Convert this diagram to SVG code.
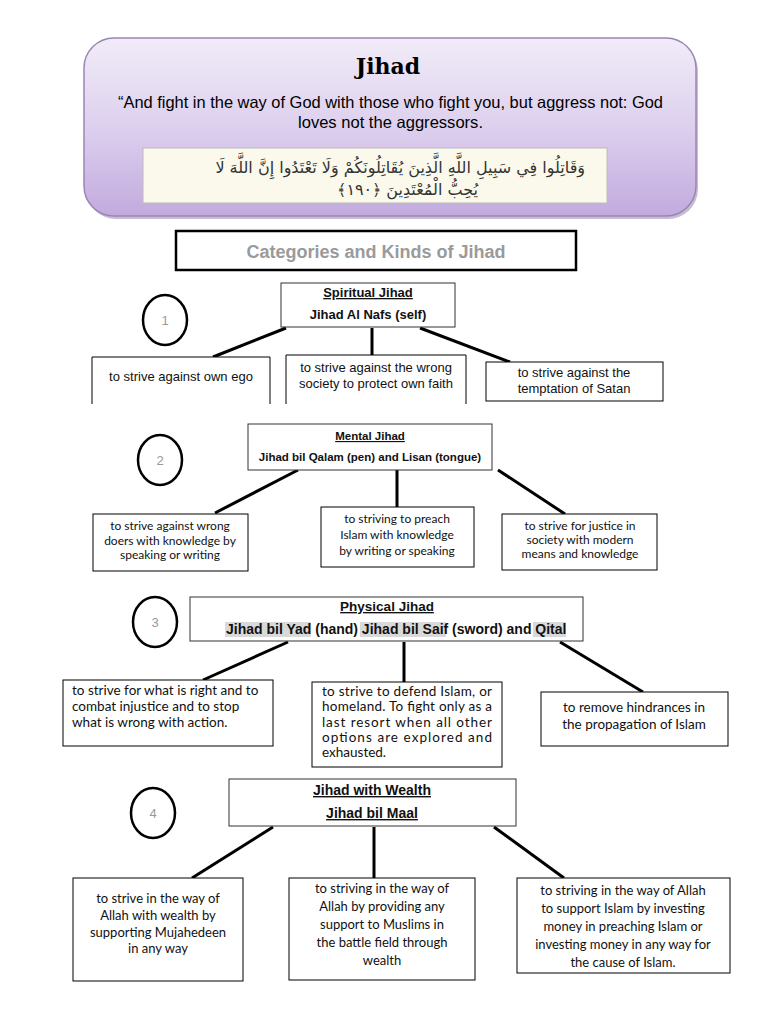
<svg xmlns="http://www.w3.org/2000/svg" width="768" height="1024" viewBox="0 0 768 1024">
<defs>
<linearGradient id="hdr" x1="0" y1="0" x2="0" y2="1">
<stop offset="0" stop-color="#f1ecf8"/>
<stop offset="0.5" stop-color="#ddd0ee"/>
<stop offset="1" stop-color="#c2aade"/>
</linearGradient>
<style>
.box{fill:#fff;stroke:#000;stroke-width:1}
.hbox{fill:#fff;stroke:#333;stroke-width:1}
.conn line{stroke:#000;stroke-width:3}
.circ{fill:none;stroke:#000;stroke-width:2.5}
.num{font-family:"Liberation Sans",Arial,sans-serif;font-size:13px;fill:#999;text-anchor:middle}
.arial{font-family:"Liberation Sans",Arial,sans-serif;font-size:13px;fill:#111;text-anchor:middle}
.cal{font-family:Lato,"Open Sans",sans-serif;font-size:12px;fill:#111;text-anchor:middle}
.cal3{font-family:Lato,"Open Sans",sans-serif;font-size:13.5px;fill:#111}
.cal2{font-family:Lato,"Open Sans",sans-serif;font-size:13px;fill:#111;text-anchor:middle}
.hd{font-family:"Liberation Sans",Arial,sans-serif;font-size:13px;font-weight:bold;fill:#111;text-anchor:middle}
.hl{fill:#d9d9d9}
.ar{font-family:"DejaVu Sans",sans-serif;font-size:16px;fill:#333}
</style>
</defs>
<rect width="768" height="1024" fill="#fff"/>
<g id="header">
<rect x="86" y="41" width="612" height="178" rx="30" fill="#8d7aa8" opacity="0.5"/>
<rect x="84" y="38" width="612" height="178" rx="30" fill="url(#hdr)" stroke="#9a86b5" stroke-width="1.5"/>
<text x="388" y="74" text-anchor="middle" font-family="'DejaVu Serif',serif" font-weight="bold" font-size="22" fill="#000">Jihad</text>
<text x="118" y="108" textLength="545" lengthAdjust="spacingAndGlyphs" font-family="'Liberation Sans',sans-serif" font-size="16.5" fill="#000">“And fight in the way of God with those who fight you, but aggress not: God</text>
<text x="298" y="128" textLength="185" lengthAdjust="spacingAndGlyphs" font-family="'Liberation Sans',sans-serif" font-size="16.5" fill="#000">loves not the aggressors.</text>
<rect x="143" y="148" width="464" height="55" fill="#fbf9ec" stroke="#bbb" stroke-width="1"/>
<text class="ar" x="585" y="173" text-anchor="start" direction="rtl">وَقَاتِلُوا فِي سَبِيلِ اللَّهِ الَّذِينَ يُقَاتِلُونَكُمْ وَلَا تَعْتَدُوا إِنَّ اللَّهَ لَا</text>
<text class="ar" x="478" y="195" text-anchor="start" direction="rtl">يُحِبُّ الْمُعْتَدِينَ ﴿١٩٠﴾</text>
</g>
<g id="title">
<rect x="176" y="231" width="400" height="39" fill="#fff" stroke="#000" stroke-width="2.5"/>
<text x="376" y="258" text-anchor="middle" font-family="'Liberation Sans',Arial,sans-serif" font-weight="bold" font-size="18" fill="#9a9a9a">Categories and Kinds of Jihad</text>
</g>
<g id="connectors" class="conn">
<line x1="286" y1="328" x2="213" y2="357"/>
<line x1="372" y1="328" x2="372" y2="355"/>
<line x1="420" y1="328" x2="510" y2="362"/>
<line x1="298" y1="470" x2="215" y2="513"/>
<line x1="397" y1="470" x2="397" y2="507"/>
<line x1="498" y1="470" x2="565" y2="514"/>
<line x1="288" y1="642" x2="203" y2="680"/>
<line x1="404" y1="642" x2="404" y2="682"/>
<line x1="560" y1="642" x2="643" y2="692"/>
<line x1="273" y1="827" x2="192" y2="878"/>
<line x1="374" y1="827" x2="374" y2="878"/>
<line x1="494" y1="827" x2="564" y2="878"/>
</g>
<g id="c1"><ellipse class="circ" cx="165" cy="320" rx="22" ry="25"/><text class="num" x="165" y="325">1</text></g>
<g id="spiritual">
<rect class="hbox" x="281" y="283" width="174" height="44"/>
<text class="hd" x="368" y="297" text-decoration="underline">Spiritual Jihad</text>
<text class="hd" x="368" y="319">Jihad Al Nafs (self)</text>
</g>
<g id="s1a"><path class="box" d="M92 404 V357 H270 V404"/><text class="arial" x="181" y="381">to strive against own ego</text></g>
<g id="s1b"><path class="box" d="M286 404 V355 H466 V404"/><text class="arial" x="376" y="372">to strive against the wrong</text><text class="arial" x="376" y="388">society to protect own faith</text></g>
<g id="s1c"><rect class="box" x="486" y="362" width="177" height="39"/><text class="arial" x="574" y="377">to strive against the</text><text class="arial" x="574" y="393">temptation of Satan</text></g>

<g id="c2"><ellipse class="circ" cx="160" cy="460" rx="22" ry="25"/><text class="num" x="160" y="465">2</text></g>
<g id="mental">
<rect class="hbox" x="248" y="424" width="244" height="46"/>
<text class="hd" style="font-size:11.5px" x="370" y="440" text-decoration="underline">Mental Jihad</text>
<text class="hd" style="font-size:11.5px" x="370" y="461">Jihad bil Qalam (pen) and Lisan (tongue)</text>
</g>
<g id="s2a"><rect class="box" x="93" y="514" width="155" height="57"/><text class="cal" x="170" y="530">to strive against wrong</text><text class="cal" x="170" y="545">doers with knowledge by</text><text class="cal" x="170" y="559">speaking or writing</text></g>
<g id="s2b"><rect class="box" x="321" y="507" width="153" height="60"/><text class="cal" x="397" y="523">to striving to preach</text><text class="cal" x="397" y="539">Islam with knowledge</text><text class="cal" x="397" y="555">by writing or speaking</text></g>
<g id="s2c"><rect class="box" x="502" y="514" width="155" height="56"/><text class="cal" x="580" y="530">to strive for justice in</text><text class="cal" x="580" y="544">society with modern</text><text class="cal" x="580" y="558">means and knowledge</text></g>

<g id="c3"><ellipse class="circ" cx="155" cy="622" rx="22" ry="25"/><text class="num" x="155" y="627">3</text></g>
<g id="physical">
<rect class="hbox" x="190" y="597" width="393" height="44"/>
<text class="hd" style="font-size:13.5px" x="387" y="611" text-decoration="underline">Physical Jihad</text>
<rect class="hl" x="225" y="622" width="86" height="15"/>
<rect class="hl" x="360" y="622" width="86" height="15"/>
<rect class="hl" x="533" y="622" width="33" height="15"/>
<text class="hd" style="font-size:14px;text-anchor:start" x="226" y="634">Jihad bil Yad (hand) Jihad bil Saif (sword) and Qital</text>
</g>
<g id="s3a"><rect class="box" x="63" y="680" width="210" height="66"/>
<text class="cal3" x="72" y="695">to strive for what is right and to</text>
<text class="cal3" x="72" y="711">combat injustice and to stop</text>
<text class="cal3" x="72" y="727">what is wrong with action.</text></g>
<g id="s3b"><rect class="box" x="312" y="682" width="190" height="85"/>
<text class="cal3" x="322" y="696" textLength="170" lengthAdjust="spacing">to strive to defend Islam, or</text>
<text class="cal3" x="322" y="711" textLength="170" lengthAdjust="spacing">homeland. To fight only as a</text>
<text class="cal3" x="322" y="727" textLength="170" lengthAdjust="spacing">last resort when all other</text>
<text class="cal3" x="322" y="742" textLength="170" lengthAdjust="spacing">options are explored and</text>
<text class="cal3" x="322" y="757">exhausted.</text></g>
<g id="s3c"><rect class="box" x="541" y="692" width="187" height="54"/><text class="cal3" style="text-anchor:middle" x="634" y="712">to remove hindrances in</text><text class="cal3" style="text-anchor:middle" x="634" y="729">the propagation of Islam</text></g>

<g id="c4"><ellipse class="circ" cx="153" cy="813" rx="22" ry="25"/><text class="num" x="153" y="818">4</text></g>
<g id="wealth">
<rect class="hbox" x="229" y="779" width="287" height="47"/>
<text class="hd" style="font-size:14px" x="372" y="795" text-decoration="underline">Jihad with Wealth</text>
<text class="hd" style="font-size:14px" x="372" y="818" text-decoration="underline">Jihad bil Maal</text>
</g>
<g id="s4a"><rect class="box" x="73" y="878" width="170" height="103"/><text class="cal2" x="158" y="903">to strive in the way of</text><text class="cal2" x="158" y="920">Allah with wealth by</text><text class="cal2" x="158" y="937">supporting Mujahedeen</text><text class="cal2" x="158" y="953">in any way</text></g>
<g id="s4b"><rect class="box" x="289" y="878" width="186" height="102"/><text class="cal2" x="382" y="893">to striving in the way of</text><text class="cal2" x="382" y="911">Allah by providing any</text><text class="cal2" x="382" y="929">support to Muslims in</text><text class="cal2" x="382" y="947">the battle field through</text><text class="cal2" x="382" y="965">wealth</text></g>
<g id="s4c"><rect class="box" x="517" y="878" width="213" height="95"/><text class="cal2" x="623" y="895">to striving in the way of Allah</text><text class="cal2" x="623" y="913">to support Islam by investing</text><text class="cal2" x="623" y="931">money in preaching Islam or</text><text class="cal2" x="623" y="949">investing money in any way for</text><text class="cal2" x="623" y="967">the cause of Islam.</text></g>
</svg>
